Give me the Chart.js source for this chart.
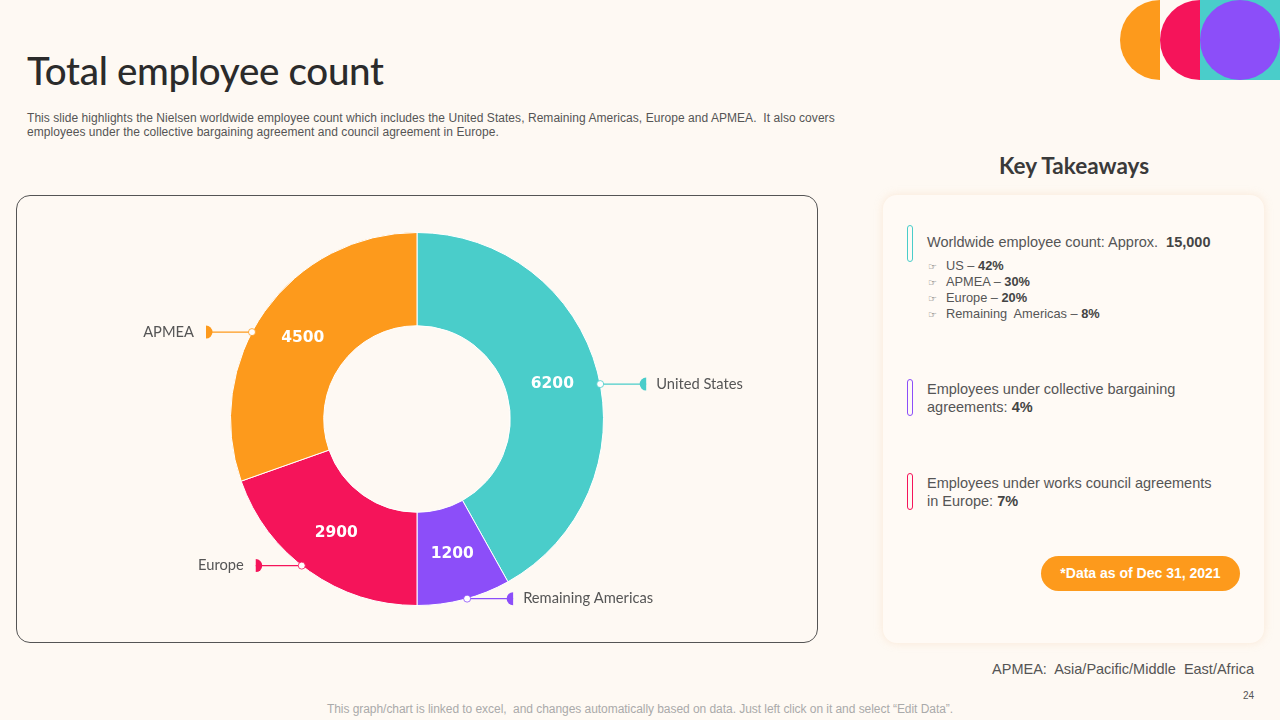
<!DOCTYPE html>
<html>
<head>
<meta charset="utf-8">
<script src="https://cdn.jsdelivr.net/npm/chart.js@4.4.0/dist/chart.umd.min.js"></script>
<style>
  html, body { margin: 0; padding: 0; }
  body { width: 1280px; height: 720px; background: #fef9f3; position: relative; overflow: hidden; font-family: "Liberation Sans", Arial, sans-serif; }
  .deco { position: absolute; top: 0; height: 80px; }
  #title { position: absolute; left: 27px; top: 47px; margin: 0; font-family: Lato, sans-serif; font-weight: 500; font-size: 38.5px; color: #2b2b2b; letter-spacing: -0.3px; }
  #intro { position: absolute; left: 27px; top: 111px; width: 822px; margin: 0; font-size: 12px; line-height: 14px; color: #555; letter-spacing: 0.05px; }
  #chartBox { position: absolute; left: 16px; top: 195px; width: 800px; height: 446px; border: 1px solid #555; border-radius: 14px; }
  #chartBox canvas { position: absolute; left: 0; top: 0; }
  #kt { position: absolute; left: 884px; width: 380px; top: 152px; text-align: center; font-family: Lato, sans-serif; font-weight: 700; font-size: 22.5px; color: #3a3a3a; margin: 0; }
  #card { position: absolute; left: 883px; top: 195px; width: 381px; height: 448px; border-radius: 14px; background: #fffaf5; box-shadow: 0 0 8px rgba(240, 200, 160, 0.35); }
  .item { position: absolute; left: 44px; font-size: 14.5px; line-height: 18px; color: #555; }
  .pill { position: absolute; left: 24px; width: 4px; height: 35px; border: 1px solid; border-radius: 4px; }
  .item b { color: #444; }
  .sub { font-size: 12.8px; line-height: 16px; height: 16px; margin-left: 1px; }
  .sub span { display: inline-block; width: 18px; font-size: 10px; }
  #btn { position: absolute; left: 158px; top: 361px; width: 199px; height: 35px; border-radius: 18px; background: #fd9a1c; color: #fff; font-weight: 700; font-size: 14px; line-height: 35px; text-align: center; }
  #apmea { position: absolute; right: 26px; top: 661px; font-size: 14.5px; color: #555; }
  #pg { position: absolute; right: 26px; top: 690px; font-size: 10px; color: #555; }
  #foot { position: absolute; left: 0; width: 1280px; top: 702px; text-align: center; font-size: 12px; color: #aaa; letter-spacing: -0.05px; }
</style>
</head>
<body>
<svg class="deco" style="left:1120px" width="160" height="80">
  <path d="M40 0 A40 40 0 0 0 40 80 Z" fill="#fd9a1c"/>
  <path d="M80 0 A40 40 0 0 0 80 80 Z" fill="#f5145a"/>
  <rect x="80" y="0" width="80" height="80" fill="#4acdca"/>
  <circle cx="120" cy="40" r="40" fill="#8c4ef9"/>
</svg>

<h1 id="title">Total employee count</h1>
<p id="intro">This slide highlights the Nielsen worldwide employee count which includes the United States, Remaining Americas, Europe and APMEA.&nbsp; It also covers employees under the collective bargaining agreement and council agreement in Europe.</p>

<div id="chartBox"><canvas id="empChart" width="800" height="446"></canvas></div>

<h2 id="kt">Key Takeaways</h2>
<div id="card">
  <div class="pill" style="top:30px;border-color:#4acdca"></div>
  <div class="item" style="top:38px">Worldwide employee count: Approx.&nbsp; <b>15,000</b>
    <div class="sub" style="margin-top:7px"><span>&#9758;</span>US &ndash; <b>42%</b></div>
    <div class="sub"><span>&#9758;</span>APMEA &ndash; <b>30%</b></div>
    <div class="sub"><span>&#9758;</span>Europe &ndash; <b>20%</b></div>
    <div class="sub"><span>&#9758;</span>Remaining&nbsp; Americas &ndash; <b>8%</b></div>
  </div>
  <div class="pill" style="top:184px;border-color:#8c4ef9"></div>
  <div class="item" style="top:185px">Employees under collective bargaining<br>agreements: <b>4%</b></div>
  <div class="pill" style="top:278px;border-color:#f5145a"></div>
  <div class="item" style="top:279px">Employees under works council agreements<br>in Europe: <b>7%</b></div>
  <div id="btn">*Data as of Dec 31, 2021</div>
</div>

<div id="apmea">APMEA:&nbsp; Asia/Pacific/Middle&nbsp; East/Africa</div>
<div id="pg">24</div>
<div id="foot">This graph/chart is linked to excel,&nbsp; and changes automatically based on data. Just left click on it and select &ldquo;Edit Data&rdquo;.</div>

<script>
const regions = ['United States', 'Remaining Americas', 'Europe', 'APMEA'];
const employees = [6200, 1200, 2900, 4500];
const sliceColors = ['#4acdca', '#8c4ef9', '#f5145a', '#fd9a1c'];

// where the leader line leaves the ring, in degrees away from the slice middle
const leaderShift = [3.8, -1, 2.9, -7.5];

const calloutPlugin = {
  id: 'callouts',
  afterDatasetsDraw(chart) {
    const ctx = chart.ctx;
    const meta = chart.getDatasetMeta(0);
    ctx.save();
    meta.data.forEach((arc, i) => {
      const p = arc.getProps(['x', 'y', 'startAngle', 'endAngle', 'outerRadius'], true);

      // value inside the ring
      const c = arc.tooltipPosition(true);
      ctx.fillStyle = '#fff';
      ctx.font = 'bold 15.5px "DejaVu Sans", sans-serif';
      ctx.textAlign = 'center';
      ctx.textBaseline = 'middle';
      ctx.fillText(employees[i], c.x, c.y);

      // leader line + label
      const a = (p.startAngle + p.endAngle) / 2 + leaderShift[i] * Math.PI / 180;
      const ex = p.x + Math.cos(a) * p.outerRadius;
      const ey = p.y + Math.sin(a) * p.outerRadius;
      const right = Math.cos(a) >= 0;
      const lx = ex + (right ? 46 : -46);

      ctx.strokeStyle = sliceColors[i];
      ctx.lineWidth = 1.2;
      ctx.beginPath();
      ctx.moveTo(ex, ey);
      ctx.lineTo(lx, ey);
      ctx.stroke();

      ctx.fillStyle = sliceColors[i];
      ctx.beginPath();
      if (right) ctx.arc(lx, ey, 6.5, Math.PI / 2, Math.PI * 1.5);
      else ctx.arc(lx, ey, 6.5, -Math.PI / 2, Math.PI / 2);
      ctx.closePath();
      ctx.fill();

      ctx.fillStyle = '#fff';
      ctx.beginPath();
      ctx.arc(ex, ey, 3.5, 0, Math.PI * 2);
      ctx.fill();
      ctx.lineWidth = 0.8;
      ctx.stroke();

      ctx.fillStyle = '#555';
      ctx.font = '14.7px Lato, sans-serif';
      ctx.textAlign = right ? 'left' : 'right';
      ctx.fillText(regions[i], right ? lx + 10 : lx - 12, ey);
    });
    ctx.restore();
  }
};

const empChart = new Chart(document.getElementById('empChart').getContext('2d'), {
  type: 'doughnut',
  data: {
    labels: regions,
    datasets: [{
      data: employees,
      backgroundColor: sliceColors,
      borderColor: '#ffffff',
      borderWidth: 1,
      hoverOffset: 0
    }]
  },
  options: {
    responsive: false,
    animation: false,
    cutout: '50%',
    layout: { padding: { top: 36, bottom: 36 } },
    plugins: { legend: { display: false }, tooltip: { enabled: false } }
  },
  plugins: [calloutPlugin]
});
</script>
</body>
</html>
